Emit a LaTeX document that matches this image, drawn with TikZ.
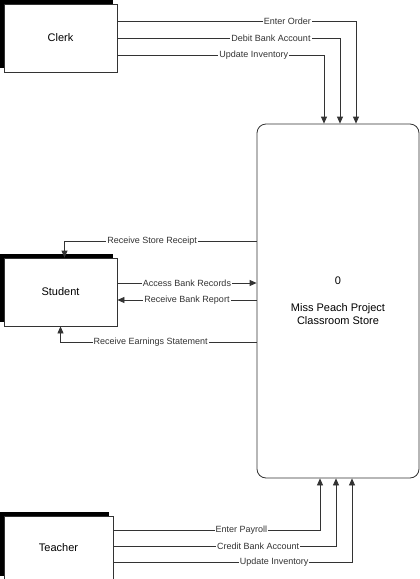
\documentclass[tikz,border=0pt]{standalone}
\usepackage{fontspec}
\setsansfont{Liberation Sans}
\usetikzlibrary{
  arrows.meta,
  shadows,
  positioning
}
\colorlet{ink}{black!80}
\tikzset{
  flow/.style={-{Triangle[length=7pt,width=6pt]}, draw=ink, line width=0.8pt},
  entity/.style={
    draw=ink,
    fill=white,
    line width=0.8pt,
    minimum width=113pt,
    minimum height=68pt,
    font=\sffamily\fontsize{11}{13}\selectfont,
    drop shadow={shadow xshift=-4pt, shadow yshift=4pt, fill=black, opacity=1}
  },
  process/.style={
    draw=ink,
    fill=white,
    rounded corners=9pt,
    line width=0.8pt,
    minimum width=162pt,
    minimum height=354pt,
    align=center,
    font=\sffamily\fontsize{11}{13}\selectfont
  },
  flowlabel/.style={
    fill=white,
    inner sep=1pt,
    font=\sffamily\fontsize{9}{10}\selectfont,
    text=ink
  }
}

\begin{document}
\begin{tikzpicture}[x=1pt,y=-1pt]
  \useasboundingbox (0,0) rectangle (420,579);

  \node[entity] (clerk) at (60.5,38) {Clerk};
  \node[entity] (student) at (60.5,292) {Student};
  \node[entity, minimum width=109pt, minimum height=64pt] (teacher) at (58.5,548) {Teacher};

  \node[process] (store) at (338,301) {0\\[14pt]Miss Peach Project\\Classroom Store};

  % clerk flows
  \draw[flow] ([yshift=17pt]clerk.east) -| node[flowlabel, pos=0.356] {Enter Order} ([xshift=18pt]store.north);
  \draw[flow] (clerk.east) -| node[flowlabel, pos=0.345] {Debit Bank Account} ([xshift=2pt]store.north);
  \draw[flow] ([yshift=-17pt]clerk.east) -| node[flowlabel, pos=0.33] {Update Inventory} ([xshift=-14pt]store.north);

  % student flows
  \draw[flow] ([yshift=60pt]store.west) -| node[flowlabel, pos=0.272] {Receive Store Receipt} ([xshift=4pt]student.north);
  \draw[flow] ([yshift=9pt]student.east) -- node[flowlabel] {Access Bank Records} ([yshift=9pt]student.east -| store.west);
  \draw[flow] ([yshift=-8pt]student.east -| store.west) -- node[flowlabel] {Receive Bank Report} ([yshift=-8pt]student.east);
  \draw[flow] ([yshift=-41pt]store.west) -| node[flowlabel, pos=0.27] {Receive Earnings Statement} (student.south);

  % teacher flows
  \draw[flow] ([yshift=18pt]teacher.east) -| node[flowlabel, pos=0.31] {Enter Payroll} ([xshift=-18pt]store.south);
  \draw[flow] ([yshift=2pt]teacher.east) -| node[flowlabel, pos=0.325] {Credit Bank Account} ([xshift=-2pt]store.south);
  \draw[flow] ([yshift=-14pt]teacher.east) -| node[flowlabel, pos=0.337] {Update Inventory} ([xshift=14pt]store.south);
\end{tikzpicture}
\end{document}
